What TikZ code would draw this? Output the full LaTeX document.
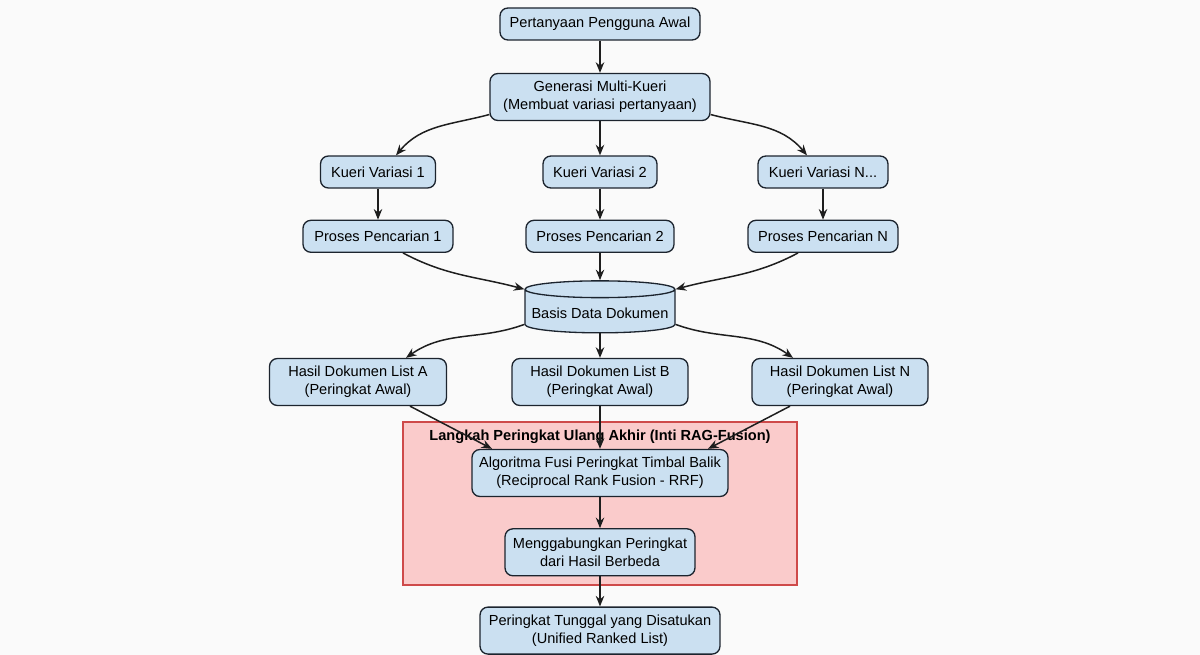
\documentclass[tikz,border=0pt]{standalone}
\usepackage{fontspec}
\setmainfont{Liberation Sans}
\usetikzlibrary{positioning, fit, backgrounds, arrows.meta, shapes.geometric}

\definecolor{boxblue}{RGB}{203,224,241}
\definecolor{boxedge}{RGB}{28,36,46}
\definecolor{fusefill}{RGB}{250,203,203}
\definecolor{fuseedge}{RGB}{206,74,74}
\definecolor{arrowgray}{RGB}{30,30,30}
\definecolor{pagebg}{RGB}{250,250,250}

\begin{document}
\begin{tikzpicture}[
  x=0.02cm, y=-0.02cm,
  font=\fontsize{8.3}{10.2}\selectfont,
  >={Stealth[length=6pt,width=4.8pt]},
  node distance=0.62cm,
  arr/.style={->, line width=0.85pt, draw=arrowgray},
  blk/.style={draw=boxedge, line width=0.75pt, fill=boxblue, rounded corners=4.5pt,
              align=center, inner sep=2pt, minimum width=#1, minimum height=0.64cm},
  blk/.default=3cm,
  blkk/.style={blk=#1, minimum height=0.94cm},
  grp/.style={draw=fuseedge, line width=0.8pt, fill=fusefill},
  htitle/.style={font=\fontsize{8.3}{10}\selectfont\bfseries},
]

\begin{pgfonlayer}{background}
  \fill[pagebg] (0,0) rectangle (1200,655);
\end{pgfonlayer}
\useasboundingbox (0,0) rectangle (1200,655);

%% ===== QUERY GENERATION =====

\node[blk=4cm] (user) at (600,24) {Pertanyaan Pengguna Awal};

\node[blkk=4.4cm] (multiq) at (600,97)
    {Generasi Multi-Kueri\\(Membuat variasi pertanyaan)};

\node[blk=2.3cm]  (kv1) at (378,172) {Kueri Variasi 1};
\node[blk=2.28cm] (kv2) at (600,172) {Kueri Variasi 2};
\node[blk=2.6cm]  (kvn) at (823,172) {Kueri Variasi N...};

\node[blk=3cm,    below=of kv1] (cari1) {Proses Pencarian 1};
\node[blk=2.96cm, below=of kv2] (cari2) {Proses Pencarian 2};
\node[blk=3cm,    below=of kvn] (carin) {Proses Pencarian N};

%% ===== RETRIEVAL =====

\node[cylinder, shape border rotate=90, aspect=0.113, draw=boxedge, line width=0.75pt,
      fill=boxblue, minimum width=3cm, minimum height=1.04cm] (db) at (600,313)
    {Basis Data Dokumen};

\node[blkk=3.54cm] (hasila) at (358,382) {Hasil Dokumen List A\\(Peringkat Awal)};
\node[blkk=3.52cm] (hasilb) at (600,382) {Hasil Dokumen List B\\(Peringkat Awal)};
\node[blkk=3.52cm] (hasiln) at (840,382) {Hasil Dokumen List N\\(Peringkat Awal)};

%% ===== RERANKING (RAG-FUSION) =====

\begin{pgfonlayer}{background}
  \node[grp, minimum width=7.88cm, minimum height=3.26cm] (fusegrp) at (600,503.5) {};
\end{pgfonlayer}
\node[htitle] (fusetitle) at (600,437) {Langkah Peringkat Ulang Akhir (Inti RAG-Fusion)};

\node[blkk=5.12cm] (rrf) at (600,473)
    {Algoritma Fusi Peringkat Timbal Balik\\(Reciprocal Rank Fusion - RRF)};

\node[blkk=3.8cm, below=of rrf] (gabung)
    {Menggabungkan Peringkat\\dari Hasil Berbeda};

\node[blkk=4.8cm, below=0.6cm of gabung] (final)
    {Peringkat Tunggal yang Disatukan\\(Unified Ranked List)};

%% ===== ARROWS =====

\draw[arr] (user) -- (multiq);
\draw[arr] (multiq.189) to[out=195, in=50] ([xshift=0.36cm]kv1.north);
\draw[arr] (multiq) -- (kv2);
\draw[arr] (multiq.-9) to[out=-15, in=130] ([xshift=-0.32cm]kvn.north);

\draw[arr] (kv1) -- (cari1);
\draw[arr] (kv2) -- (cari2);
\draw[arr] (kvn) -- (carin);

\draw[arr] ([xshift=0.5cm]cari1.south) to[out=-28, in=165] (db.before top);
\draw[arr] (cari2) -- (db.top);
\draw[arr] ([xshift=-0.5cm]carin.south) to[out=-152, in=15] (db.after top);

\draw[arr] (db.after bottom) to[out=200, in=35] ([xshift=0.96cm]hasila.north);
\draw[arr] (db.bottom) -- (hasilb);
\draw[arr] (db.before bottom) to[out=-20, in=145] ([xshift=-0.94cm]hasiln.north);

\draw[arr] ([xshift=1.04cm]hasila.south) -- ([xshift=-2.16cm]rrf.north);
\draw[arr] (hasilb) -- (rrf);
\draw[arr] ([xshift=-1.0cm]hasiln.south) -- ([xshift=2.16cm]rrf.north);

\draw[arr] (rrf) -- (gabung);
\draw[arr] (gabung) -- (final);

\end{tikzpicture}
\end{document}
